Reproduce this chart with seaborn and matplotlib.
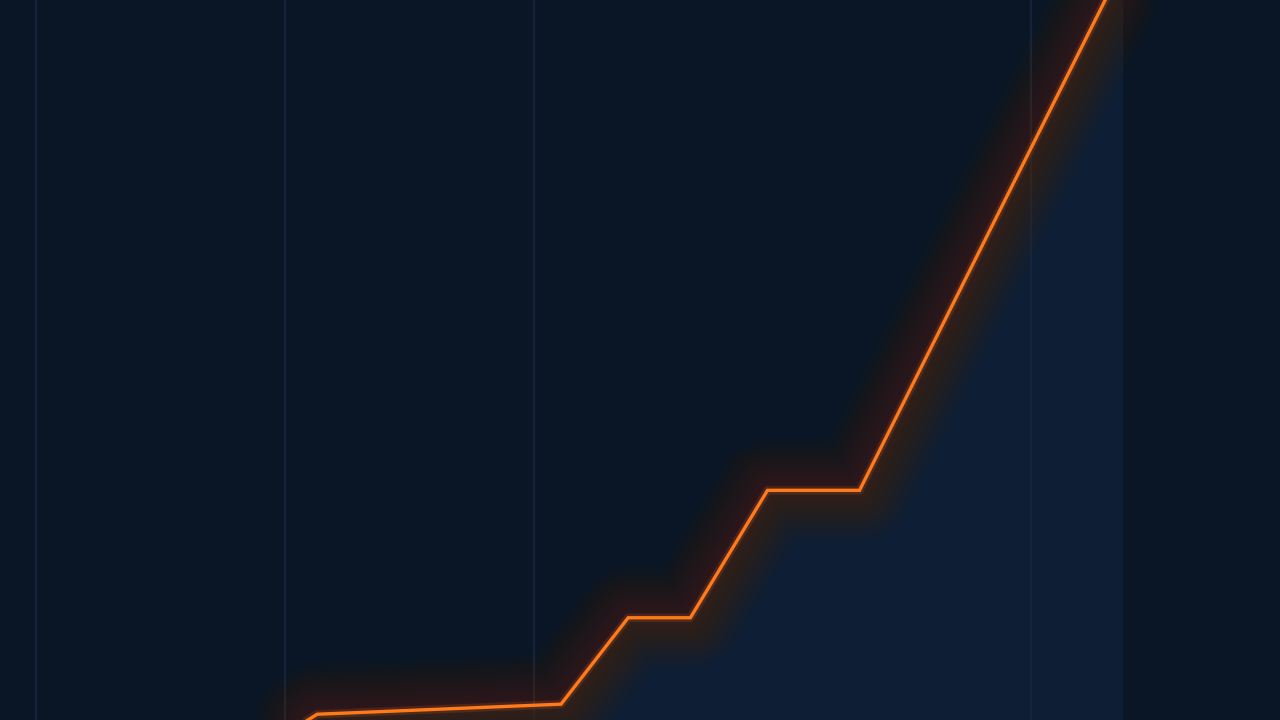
import matplotlib
matplotlib.use("Agg")
import matplotlib.pyplot as plt
import seaborn as sns
import pandas as pd

# data (x in gridline units, y as percent of height)
x_vals = [1.00, 1.13, 2.11, 2.38, 2.63, 2.94, 3.31, 4.37]
y_vals = [-2.0, 0.8, 2.2, 14.2, 14.2, 31.9, 31.9, 105.0]
grid_x = [0, 1, 2, 4]

df = pd.DataFrame({"x": x_vals, "y": y_vals})

bg = "#0a1625"
line_col = "#ff7a1a"

sns.set_theme(style="dark")
fig = plt.figure(figsize=(12.8, 7.2), dpi=100, facecolor=bg)
ax = fig.add_axes([0, 0, 1, 1])
ax.set_facecolor(bg)

# soft fill under the curve
ax.fill_between(df["x"], df["y"], -10, color="#132644", alpha=0.5, lw=0, zorder=1)

# glow: many thin-alpha layers so it fades smoothly
for lw in range(4, 76, 2):
    sns.lineplot(data=df, x="x", y="y", ax=ax, color=line_col, lw=lw, alpha=0.009,
                 sort=False, solid_joinstyle="round", zorder=3)
sns.lineplot(data=df, x="x", y="y", ax=ax, color=line_col, lw=6, alpha=0.15,
             sort=False, solid_joinstyle="round", zorder=3)
sns.lineplot(data=df, x="x", y="y", ax=ax, color=line_col, lw=2.4,
             sort=False, solid_joinstyle="miter", zorder=4)

ax.set_xlim(-0.145, 5.0)
ax.set_ylim(0, 100)
ax.set_xticks(grid_x)
ax.set_yticks([])
ax.grid(axis="x", color="#15233a", lw=1.6, zorder=0)
ax.set_axisbelow(True)
ax.tick_params(length=0, labelbottom=False, labelleft=False)
ax.set_xlabel("")
ax.set_ylabel("")
for s in ax.spines.values():
    s.set_visible(False)

fig.savefig("out.png", dpi=100, facecolor=bg)
